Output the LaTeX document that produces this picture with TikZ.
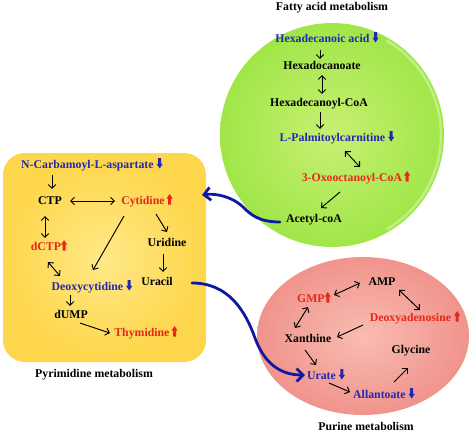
\documentclass[tikz,border=0pt]{standalone}
\usepackage{fontspec}
\setmainfont{Liberation Serif}
\usetikzlibrary{arrows.meta}
\definecolor{tblue}{RGB}{35,40,175}
\definecolor{tred}{RGB}{232,38,28}
\definecolor{ablue}{RGB}{15,25,160}
\newcommand\myup{\tikz[baseline=0pt,x=1pt,y=1pt]\fill[tred] (-1.5,-0.5) -- (-1.5,5.3) -- (-3.1,5.3) -- (0,10) -- (3.1,5.3) -- (1.5,5.3) -- (1.5,-0.5) -- cycle;}
\newcommand\mydn{\tikz[baseline=0pt,x=1pt,y=1pt]\fill[tblue] (-1.5,10) -- (-1.5,4.2) -- (-3.1,4.2) -- (0,-0.5) -- (3.1,4.2) -- (1.5,4.2) -- (1.5,10) -- cycle;}
\begin{document}
\begin{tikzpicture}[x=1pt,y=-1pt,
  lbl/.style={font=\fontsize{11.8}{14}\selectfont\bfseries, inner sep=1pt, text height=8pt, text depth=2pt},
  bl/.style={lbl,text=tblue},
  rd/.style={lbl,text=tred},
  arr/.style={line width=0.95pt,-{Straight Barb[length=3.8pt,width=7.5pt]}},
  darr/.style={line width=0.95pt,{Straight Barb[length=3.8pt,width=7.5pt]}-{Straight Barb[length=3.8pt,width=7.5pt]}},
  big/.style={ablue,line width=2.8pt,line cap=round,-{Straight Barb[length=6.5pt,width=13pt,line width=2.8pt]}}]
\useasboundingbox (0,0) rectangle (474,434);
% backgrounds
\shade[inner color={rgb,255:red,255;green,232;blue,135}, outer color={rgb,255:red,254;green,214;blue,75}, rounded corners=22pt] (3,153) rectangle (206,362);
\shade[inner color={rgb,255:red,200;green,240;blue,115}, outer color={rgb,255:red,160;green,230;blue,72}] (332,135) circle (112);
\draw[white, opacity=0.35, line width=2.5pt] (332,135) ++(-60:109) arc[start angle=-60, end angle=60, radius=109];
\shade[inner color={rgb,255:red,249;green,188;blue,178}, outer color={rgb,255:red,240;green,148;blue,140}] (363,336) ellipse (106 and 79);
% titles
\node[lbl] (tfat) at (332,7) {Fatty acid metabolism};
\node[lbl] (tpyr) at (94,374) {Pyrimidine metabolism};
\node[lbl] (tpur) at (366,427) {Purine metabolism};
% fatty acid
\node[bl] (hexacid) at (327,39) {Hexadecanoic acid \mydn};
\node[lbl] (hexoate) at (322,66) {Hexadocanoate};
\node[lbl] (hexcoa) at (319,103) {Hexadecanoyl-CoA};
\node[bl] (lp) at (337,138) {L-Palmitoylcarnitine \mydn};
\node[rd] (ox) at (356,178) {3-Oxooctanoyl-CoA\,\myup};
\node[lbl] (acetyl) at (314,219) {Acetyl-coA};
\draw[arr] ([shift={(-7,11)}]hexacid.center) -- ([shift={(-2,-7)}]hexoate.center);
\draw[darr] ([shift={(0,9)}]hexoate.center) -- ([shift={(3,-9)}]hexcoa.center);
\draw[arr] ([shift={(1,9)}]hexcoa.center) -- ([shift={(-17,-9)}]lp.center);
\draw[darr] ([shift={(8,13)}]lp.center) -- ([shift={(4,-11)}]ox.center);
\draw[arr] ([shift={(-16,14)}]ox.center) -- ([shift={(7,-11)}]acetyl.center);
% pyrimidine
\node[bl] (ncarb) at (92,165) {N-Carbamoyl-L-aspartate \mydn};
\node[lbl] (ctp) at (50,201) {CTP};
\node[rd] (cyt) at (147,201) {Cytidine\,\myup};
\node[rd] (dctp) at (49,247) {dCTP\myup};
\node[lbl] (uridine) at (167,243) {Uridine};
\node[lbl] (uracil) at (157,282) {Uracil};
\node[bl] (deoxyc) at (92,287) {Deoxycytidine \mydn};
\node[lbl] (dump) at (71,315) {dUMP};
\node[rd] (thym) at (146,333) {Thymidine\,\myup};
\draw[arr] ([shift={(-40,10)}]ncarb.center) -- ([shift={(2,-12)}]ctp.center);
\draw[darr] ([shift={(20,0)}]ctp.center) -- ([shift={(-32,0)}]cyt.center);
\draw[darr] ([shift={(-5,15)}]ctp.center) -- ([shift={(-4,-9)}]dctp.center);
\draw[darr] ([shift={(-1,15)}]dctp.center) -- ([shift={(-32,-11)}]deoxyc.center);
\draw[arr] ([shift={(-23,15)}]cyt.center) -- ([shift={(1,-17)}]deoxyc.center);
\draw[arr] ([shift={(9,13)}]cyt.center) -- ([shift={(0,-11)}]uridine.center);
\draw[arr] ([shift={(-4,11)}]uridine.center) -- ([shift={(6,-10)}]uracil.center);
\draw[arr] ([shift={(-22,8)}]deoxyc.center) -- ([shift={(-1,-9)}]dump.center);
\draw[arr] ([shift={(9,8)}]dump.center) -- ([shift={(-36,0)}]thym.center);
% purine
\node[lbl] (amp) at (382,282) {AMP};
\node[rd] (gmp) at (314,299) {GMP\myup};
\node[rd] (deoxya) at (415,318) {Deoxyadenosine \myup};
\node[lbl] (xan) at (308,339) {Xanthine};
\node[bl] (urate) at (326,376) {Urate \mydn};
\node[bl] (allan) at (384,395) {Allantoate \mydn};
\node[lbl] (gly) at (411,350) {Glycine};
\draw[darr] ([shift={(20,-4)}]gmp.center) -- ([shift={(-22,1)}]amp.center);
\draw[darr] ([shift={(17,8)}]amp.center) -- ([shift={(5,-8)}]deoxya.center);
\draw[arr] ([shift={(-52,7)}]deoxya.center) -- ([shift={(29,-2)}]xan.center);
\draw[darr] ([shift={(-6,8)}]gmp.center) -- ([shift={(-13,-11)}]xan.center);
\draw[arr] ([shift={(-3,11)}]xan.center) -- ([shift={(-10,-11)}]urate.center);
\draw[arr] ([shift={(3,7)}]urate.center) -- ([shift={(-34,-3)}]allan.center);
\draw[arr] ([shift={(10,-13)}]allan.center) -- ([shift={(-3,18)}]gly.center);
% big blue connectors
\coordinate (tipA) at (202,195);
\coordinate (tipB) at (305,375);
\draw[big] ([shift={(-34,3)}]acetyl.center) .. controls (258,222) and (250,214) .. (242,206) .. controls (232,197) and (216,193) .. (tipA);
\draw[big] ([shift={(35,1)}]uracil.center) .. controls (228,283) and (245,310) .. (255,338) .. controls (266,368) and (285,375) .. (tipB);
\end{tikzpicture}
\end{document}
